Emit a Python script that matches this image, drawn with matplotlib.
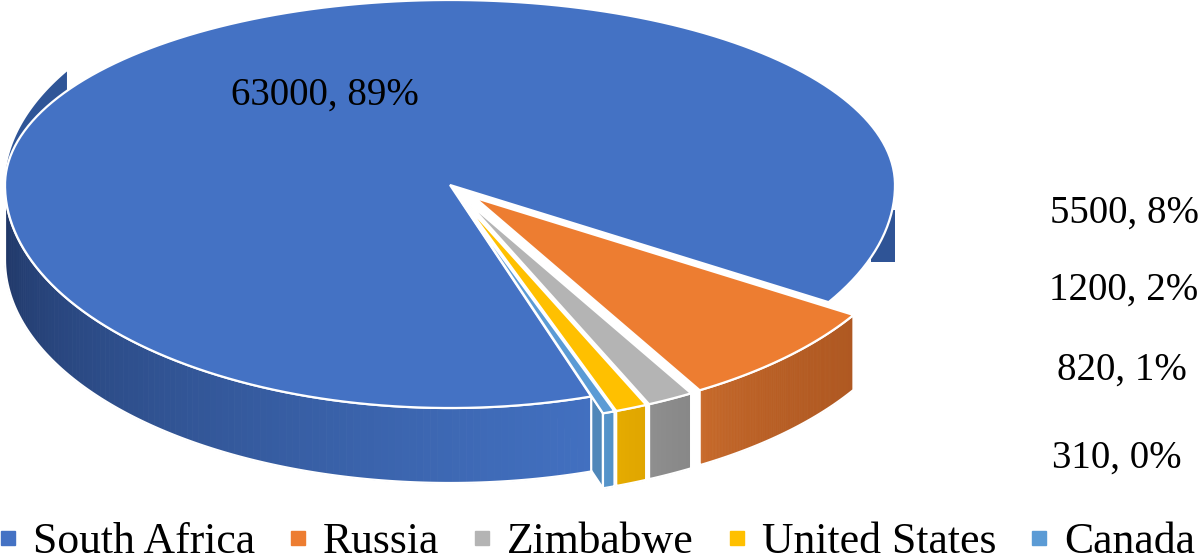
import numpy as np
import matplotlib.pyplot as plt
from matplotlib.patches import Polygon, Rectangle
from matplotlib.collections import PolyCollection
from matplotlib.lines import Line2D

countries = ['South Africa', 'Russia', 'Zimbabwe', 'United States', 'Canada']
values = [63000, 5500, 1200, 820, 310]
top_colors = ['#4472C4', '#ED7D31', '#B4B4B4', '#FFC000', '#5B9BD5']
legend_colors = ['#4472C4', '#ED7D31', '#B4B4B4', '#FFC000', '#5B9BD5']
explode = [0.0, 0.08, 0.08, 0.08, 0.08]
# side wall gradients (left colour, right colour)
side_colors = [((30, 52, 98), (66, 112, 192)),
               ((205, 110, 45), (175, 88, 33)),
               ((146, 146, 146), (136, 136, 136)),
               ((232, 174, 0), (224, 166, 0)),
               ((88, 150, 205), (84, 146, 200))]

# projection of the tilted disc (pixel space)
CX, CY = 450, 185
RX, RY_TOP, RY_BOT = 445, 185, 223
DEPTH = 75
START = 288.5


def proj(u, v, z=0.0):
    u = np.asarray(u, float)
    v = np.asarray(v, float)
    ry = np.where(v >= 0, RY_TOP, RY_BOT)
    return CX + RX * u, CY - ry * v + DEPTH * z


def rim(a0, a1, ex, ey, z=0.0, n=200):
    t = np.radians(np.linspace(a0, a1, n))
    return proj(np.cos(t) + ex, np.sin(t) + ey, z)


def wall(ax, a0, a1, ex, ey, cols, xr, n=120, outline=True):
    lo, hi = min(a0, a1), max(a0, a1)
    xt, yt = rim(lo, hi, ex, ey, 0, n)
    xb, yb = rim(lo, hi, ex, ey, 1, n)
    quads, fc = [], []
    c0, c1 = np.array(cols[0]) / 255, np.array(cols[1]) / 255
    for i in range(n - 1):
        quads.append([(xt[i], yt[i]), (xt[i + 1], yt[i + 1]),
                      (xb[i + 1], yb[i + 1]), (xb[i], yb[i])])
        s = np.clip(((xt[i] + xt[i + 1]) / 2 - xr[0]) / (xr[1] - xr[0]), 0, 1)
        fc.append(c0 + (c1 - c0) * np.sqrt(s))
    pc = PolyCollection(quads, facecolors=fc, edgecolors=fc, linewidths=0.6)
    ax.add_collection(pc)
    if outline:
        ol = np.vstack([np.column_stack([xt, yt]), np.column_stack([xb, yb])[::-1]])
        ax.add_patch(Polygon(ol, closed=True, fill=False, ec='white', lw=1.6))
    return pc


total = sum(values)
fracs = np.array(values) / total
bounds = START - np.concatenate([[0], np.cumsum(fracs) * 360])

fig = plt.figure(figsize=(12, 5.57), dpi=100)
ax = fig.add_axes([0, 0, 1, 1])
ax.set_xlim(0, 1200)
ax.set_ylim(557, 0)
ax.axis('off')

offs = []
for i in range(len(values)):
    mid = np.radians((bounds[i] + bounds[i + 1]) / 2)
    offs.append((explode[i] * np.cos(mid), explode[i] * np.sin(mid)))

# stray pieces of the back wall (as in the source rendering)
t = np.radians(np.linspace(149.4, 180, 60))
xi = CX + RX * np.cos(t)
inner = np.column_stack([xi, CY - RY_TOP * np.sin(t)])
outer = np.column_stack([xi, CY - RY_BOT * np.sin(t)])
ax.add_patch(Polygon(np.vstack([inner, outer[::-1]]), closed=True,
                     fc='#2F5597', ec='none'))
pc = wall(ax, -20, 0, 0, 0, ((47, 84, 150), (47, 84, 150)), (0, 1), outline=False)
pc.set_clip_path(Rectangle((871, 210), 24, 52, transform=ax.transData))

# radial cut face of the last (exploded) slice next to the big slice
ex, ey = offs[-1]
a = np.radians(bounds[-1])
ax0, ay0 = proj(ex, ey)
ax1, ay1 = proj(np.cos(a) + ex, np.sin(a) + ey)
face = [(ax0, ay0), (ax1, ay1), (ax1, ay1 + DEPTH), (ax0, ay0 + DEPTH)]
ax.add_patch(Polygon(face, closed=True, fc='#4F87B9', ec='white', lw=1.6))

# big slice: front wall then top
ex, ey = offs[0]
xw = rim(180, bounds[0], ex, ey)[0]
wall(ax, 180, bounds[0], ex, ey, side_colors[0], (xw.min(), xw.max()))
xr, yr = rim(bounds[0], bounds[1], ex, ey)
px, py = proj(ex, ey)
ax.add_patch(Polygon(np.column_stack([np.r_[px, xr], np.r_[py, yr]]), closed=True,
                     fc=top_colors[0], ec='white', lw=1.6))

# small exploded slices
for i in range(len(values) - 1, 0, -1):
    ex, ey = offs[i]
    xw = rim(bounds[i + 1], bounds[i], ex, ey)[0]
    wall(ax, bounds[i + 1], bounds[i], ex, ey, side_colors[i], (xw.min(), xw.max()))
    xr, yr = rim(bounds[i], bounds[i + 1], ex, ey)
    px, py = proj(ex, ey)
    ax.add_patch(Polygon(np.column_stack([np.r_[px, xr], np.r_[py, yr]]), closed=True,
                         fc=top_colors[i], ec='white', lw=1.6))

# data labels
labels = [f'{v}, {round(f * 100)}%' for v, f in zip(values, fracs)]
label_pos = [(325, 95), (1124, 213), (1124, 290), (1122, 370), (1117, 458)]
for lab, (x, y) in zip(labels, label_pos):
    ax.text(x, y, lab, ha='center', va='center', fontsize=28,
            family='Liberation Serif', color='black')

handles = [Line2D([], [], marker='s', ls='', color=c, markersize=10) for c in legend_colors]
fig.legend(handles, countries, loc='lower center', bbox_to_anchor=(0.498, -0.009), ncol=5,
           frameon=False, prop={'family': 'Liberation Serif', 'size': 31.5},
           handlelength=0.35, handletextpad=0.4, columnspacing=0.8,
           borderpad=0, borderaxespad=0)

fig.savefig('out.png', dpi=100)
